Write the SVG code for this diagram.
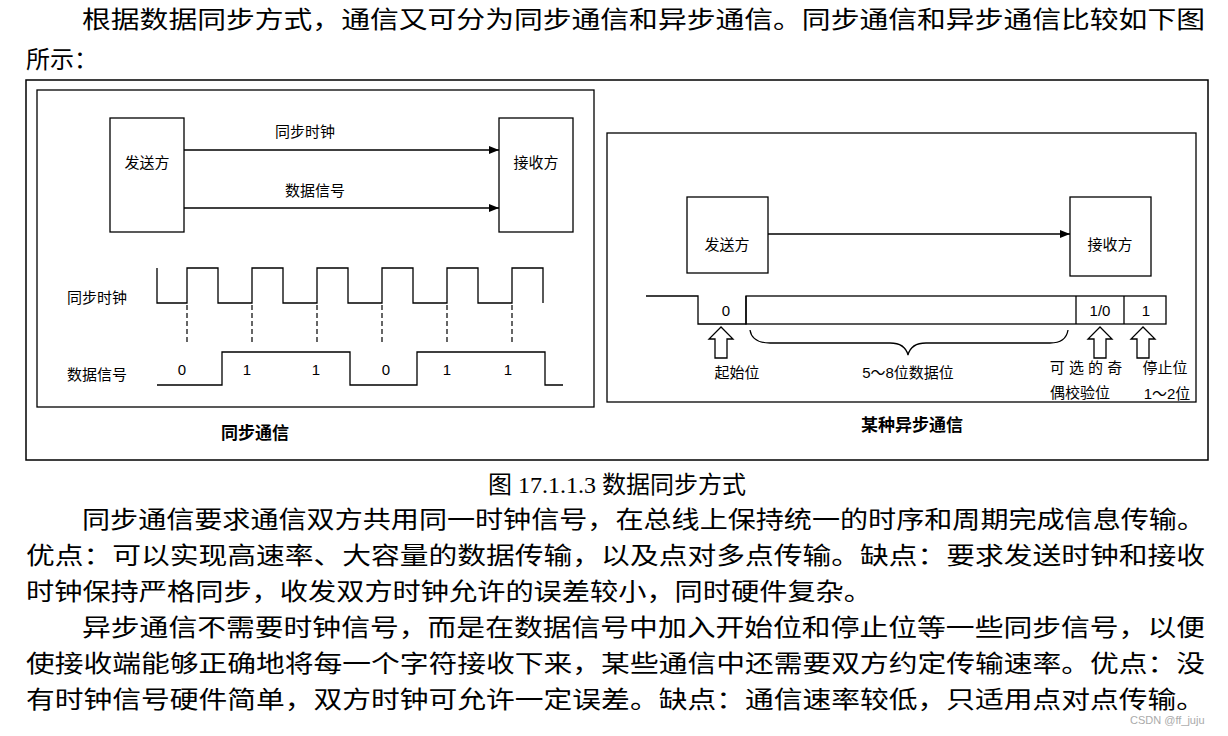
<svg xmlns="http://www.w3.org/2000/svg" width="1228" height="736" viewBox="0 0 1228 736">
<style>
.p{font-family:"Liberation Serif","Noto Sans CJK SC",serif;font-size:24px;fill:#000}
.d{font-family:"Liberation Sans","Noto Sans CJK SC",sans-serif;font-size:15px;fill:#000}
.b{font-family:"Liberation Sans","Noto Sans CJK SC",sans-serif;font-size:17px;font-weight:bold;fill:#000}
.s{fill:none;stroke:#000;stroke-width:1.5}
.w{fill:none;stroke:#000;stroke-width:1.3}
.dash{stroke:#000;stroke-width:1.2;stroke-dasharray:5,3}
</style>
<defs><marker id="ah" markerWidth="10" markerHeight="8" refX="10" refY="4" orient="auto" markerUnits="userSpaceOnUse"><path d="M0,0L10,4L0,8z" fill="#000"/></marker></defs>
<rect width="1228" height="736" fill="#fff"/>
<text class="p" x="82" y="28" textLength="1123" lengthAdjust="spacingAndGlyphs">根据数据同步方式，通信又可分为同步通信和异步通信。同步通信和异步通信比较如下图</text>
<text class="p" x="26" y="68">所示：</text>
<rect x="26" y="80" width="1182" height="380" class="s" stroke-width="2"/>
<rect x="37" y="90" width="557" height="317" class="w"/>
<g id="sendL"><rect x="110" y="118" width="74" height="114" class="w"/><text class="d" x="147" y="168" text-anchor="middle">发送方</text></g>
<g id="recvL"><rect x="499" y="118" width="74" height="114" class="w"/><text class="d" x="536" y="168" text-anchor="middle">接收方</text></g>
<g id="connectors">
<line x1="184" y1="150" x2="499" y2="150" class="w" marker-end="url(#ah)"/>
<line x1="184" y1="208" x2="499" y2="208" class="w" marker-end="url(#ah)"/>
<line x1="768" y1="234" x2="1070" y2="234" class="w" marker-end="url(#ah)"/>
</g>
<text class="d" x="305" y="137" text-anchor="middle">同步时钟</text>
<text class="d" x="315" y="196" text-anchor="middle">数据信号</text>
<text class="d" x="67" y="303">同步时钟</text>
<text class="d" x="67" y="380">数据信号</text>
<path class="w" d="M157,268V303H187V268H218V303H252V268H283V303H317V268H348V303H382V268H413V303H447V268H478V303H512V268H543V303"/>
<g class="dash"><line x1="187" y1="305" x2="187" y2="345"/><line x1="252" y1="305" x2="252" y2="345"/><line x1="317" y1="305" x2="317" y2="345"/><line x1="382" y1="305" x2="382" y2="345"/><line x1="447" y1="305" x2="447" y2="345"/><line x1="512" y1="305" x2="512" y2="345"/></g>
<path class="w" d="M157,385H222V352H350V385H417V352H545V385H563"/>
<g class="d" text-anchor="middle"><text x="182" y="375">0</text><text x="247" y="375">1</text><text x="316" y="375">1</text><text x="386" y="375">0</text><text x="447" y="375">1</text><text x="508" y="375">1</text></g>
<text class="b" x="255" y="439" text-anchor="middle">同步通信</text>
<rect x="607" y="133" width="589" height="269" class="w"/>
<g id="sendR"><rect x="687" y="197" width="81" height="76" class="w"/><text class="d" x="727" y="250" text-anchor="middle">发送方</text></g>
<g id="recvR"><rect x="1070" y="197" width="81" height="79" class="w"/><text class="d" x="1110" y="250" text-anchor="middle">接收方</text></g>
<path class="w" d="M646,296H698V324H746V296"/>
<rect x="746" y="296" width="420" height="28" class="w"/>
<line x1="1076" y1="296" x2="1076" y2="324" class="w"/><line x1="1124" y1="296" x2="1124" y2="324" class="w"/>
<g class="d" text-anchor="middle"><text x="726" y="316">0</text><text x="1100" y="316">1/0</text><text x="1146" y="316">1</text></g>
<path class="w" d="M721,327l-12,12h6v19h12v-19h6z"/>
<path class="w" d="M1100,327l-12,12h6v19h12v-19h6z"/>
<path class="w" d="M1143,327l-12,12h6v19h12v-19h6z"/>
<path class="w" d="M750,330Q752,343 770,343H890Q905,343 908,355Q911,343 926,343H1050Q1066,343 1068,330"/>
<g class="d" text-anchor="middle"><text x="737" y="378">起始位</text><text x="908" y="378">5～8位数据位</text><text x="1086" y="373">可 选 的 奇</text><text x="1080" y="398">偶校验位</text><text x="1165" y="373">停止位</text><text x="1167" y="399">1～2位</text></g>
<text class="b" x="912" y="431" text-anchor="middle">某种异步通信</text>
<text class="p" x="617" y="493" text-anchor="middle">图 17.1.1.3  数据同步方式</text>
<text class="p" x="82" y="528" textLength="1123" lengthAdjust="spacingAndGlyphs">同步通信要求通信双方共用同一时钟信号，在总线上保持统一的时序和周期完成信息传输。</text>
<text class="p" x="26" y="564" textLength="1179" lengthAdjust="spacingAndGlyphs">优点：可以实现高速率、大容量的数据传输，以及点对多点传输。缺点：要求发送时钟和接收</text>
<text class="p" x="26" y="600" textLength="846" lengthAdjust="spacingAndGlyphs">时钟保持严格同步，收发双方时钟允许的误差较小，同时硬件复杂。</text>
<text class="p" x="82" y="636" textLength="1123" lengthAdjust="spacingAndGlyphs">异步通信不需要时钟信号，而是在数据信号中加入开始位和停止位等一些同步信号，以便</text>
<text class="p" x="26" y="672" textLength="1179" lengthAdjust="spacingAndGlyphs">使接收端能够正确地将每一个字符接收下来，某些通信中还需要双方约定传输速率。优点：没</text>
<text class="p" x="26" y="708" textLength="1179" lengthAdjust="spacingAndGlyphs">有时钟信号硬件简单，双方时钟可允许一定误差。缺点：通信速率较低，只适用点对点传输。</text>
<text x="1130" y="724" font-family="Liberation Sans,sans-serif" font-size="11" fill="#aaa">CSDN @ff_juju</text>
</svg>
